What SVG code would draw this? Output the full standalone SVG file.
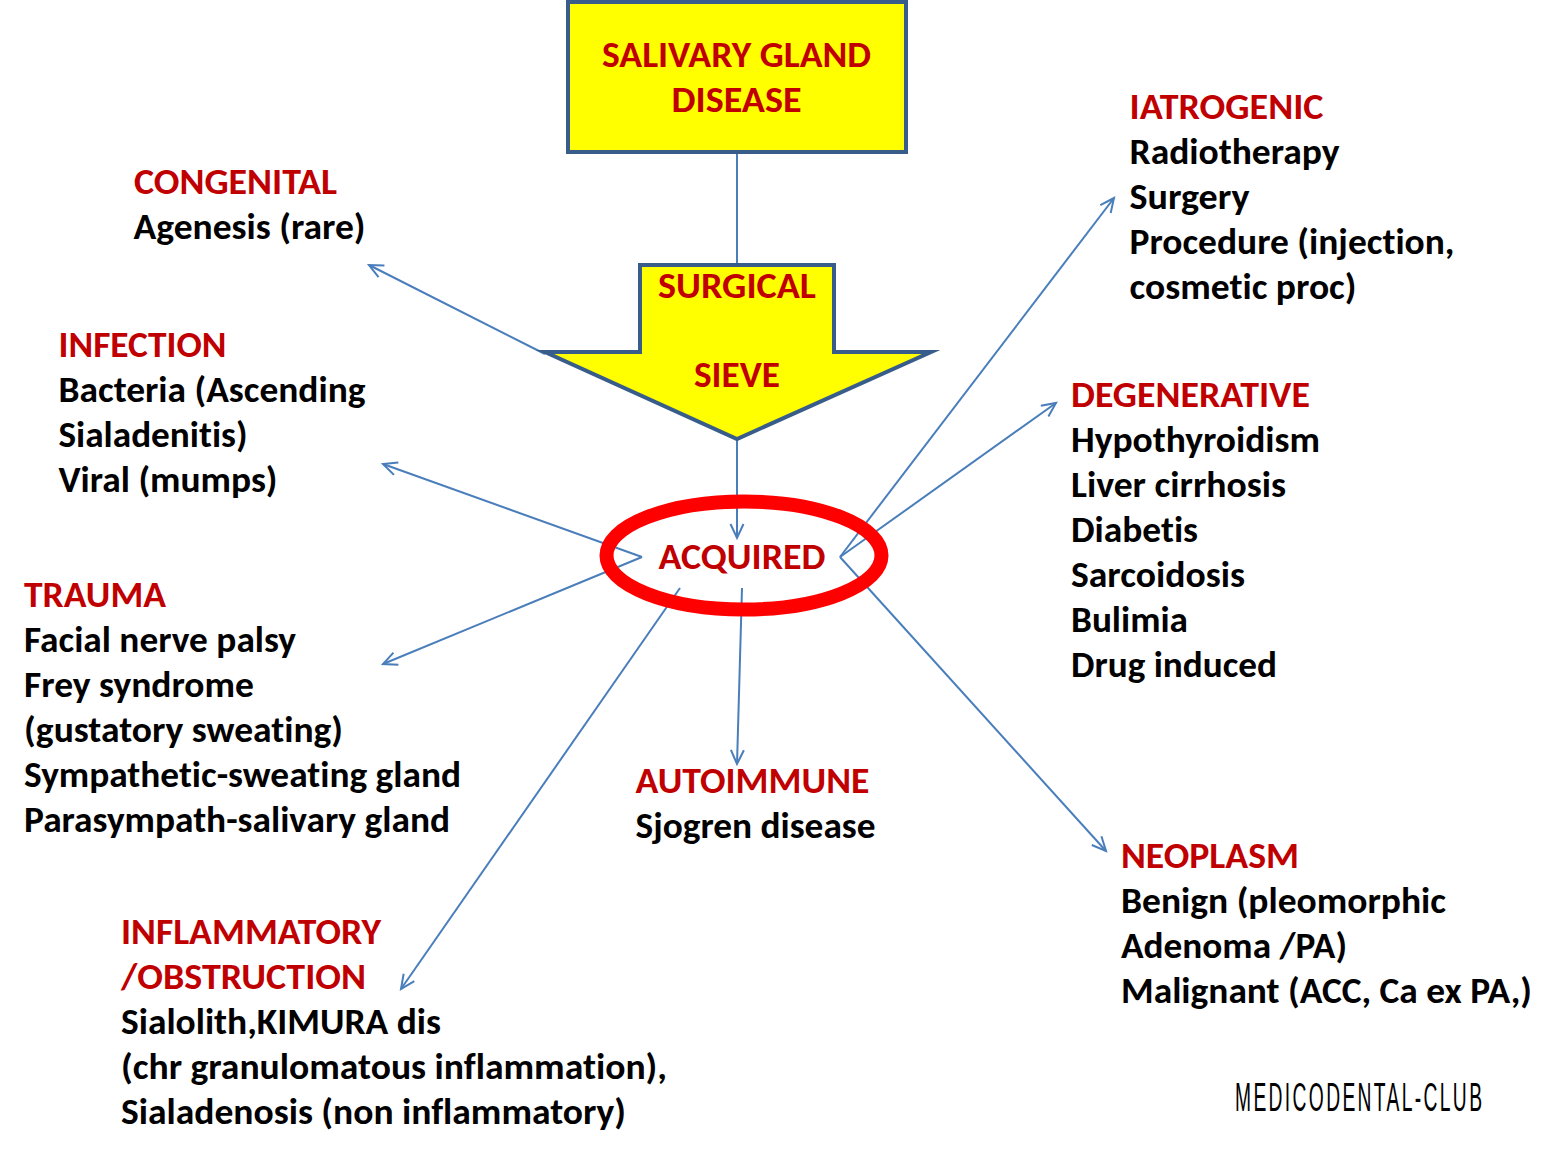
<svg xmlns="http://www.w3.org/2000/svg" width="1565" height="1158" viewBox="0 0 1565 1158">
<style>
text{font-family:"Carlito","Lato","Open Sans","Liberation Sans",sans-serif;font-weight:700;font-size:36px;fill:#000;font-variant-ligatures:none}
.h{fill:#C00000}
.m{fill:#C00000;text-anchor:middle}
.box{fill:#FFFF00;stroke:#385D8A;stroke-width:4;stroke-miterlimit:10}
.c{fill:none;stroke:#4A7EBB;stroke-width:2}
.a{marker-end:url(#arr)}
.wm{font-family:"Liberation Sans Narrow","Liberation Sans",sans-serif;font-weight:400;font-size:41px;letter-spacing:5px}
</style>
<defs>
<marker id="arr" markerUnits="userSpaceOnUse" markerWidth="24" markerHeight="24" refX="18" refY="12" orient="auto">
<path d="M4 5.500L18 12L4 18.500" fill="none" stroke="#4A7EBB" stroke-width="2"/>
</marker>
</defs>
<rect width="1565" height="1158" fill="#fff"/>
<g id="connectors">
<path class="c" d="M737 152V266"/>
<path class="c a" d="M737 440V538"/>
<path class="c a" d="M545 354L369 265"/>
<path class="c a" d="M642 557L383 464"/>
<path class="c a" d="M642 557L383 664"/>
<path class="c a" d="M680 588L401 989"/>
<path class="c a" d="M742 588L737 764"/>
<path class="c a" d="M840 557L1114 198"/>
<path class="c a" d="M840 557L1056 403"/>
<path class="c a" d="M840 557L1106 851"/>
</g>
<g id="node-title">
<rect class="box" x="568" y="2" width="338" height="150"/>
<text class="m" x="736.500" y="67" textLength="269" lengthAdjust="spacingAndGlyphs">SALIVARY GLAND</text>
<text class="m" x="736.500" y="112" textLength="130" lengthAdjust="spacingAndGlyphs">DISEASE</text>
</g>
<g id="node-sieve">
<path class="box" d="M640 265H834V352H931L737 439L545 352H640Z"/>
<text class="m" x="737" y="298" textLength="158" lengthAdjust="spacingAndGlyphs">SURGICAL</text>
<text class="m" x="737" y="387" textLength="86" lengthAdjust="spacingAndGlyphs">SIEVE</text>
</g>
<g id="node-acquired">
<ellipse cx="744" cy="555.500" rx="137.500" ry="54" fill="none" stroke="#FF0000" stroke-width="14"/>
<text class="m" x="742" y="569" textLength="167" lengthAdjust="spacingAndGlyphs">ACQUIRED</text>
</g>
<g id="node-congenital">
<text class="h" x="134" y="194" textLength="203" lengthAdjust="spacingAndGlyphs">CONGENITAL</text>
<text x="133.500" y="239" textLength="232" lengthAdjust="spacingAndGlyphs">Agenesis (rare)</text>
</g>
<g id="node-infection">
<text class="h" x="58.500" y="357" textLength="168" lengthAdjust="spacingAndGlyphs">INFECTION</text>
<text x="58.500" y="402" textLength="307" lengthAdjust="spacingAndGlyphs">Bacteria (Ascending</text>
<text x="58.500" y="447" textLength="189" lengthAdjust="spacingAndGlyphs">Sialadenitis)</text>
<text x="58.500" y="492" textLength="219" lengthAdjust="spacingAndGlyphs">Viral (mumps)</text>
</g>
<g id="node-trauma">
<text class="h" x="24" y="607" textLength="142" lengthAdjust="spacingAndGlyphs">TRAUMA</text>
<text x="24" y="652" textLength="272" lengthAdjust="spacingAndGlyphs">Facial nerve palsy</text>
<text x="24" y="697" textLength="230" lengthAdjust="spacingAndGlyphs">Frey syndrome</text>
<text x="24" y="742" textLength="319" lengthAdjust="spacingAndGlyphs">(gustatory sweating)</text>
<text x="24" y="787" textLength="437" lengthAdjust="spacingAndGlyphs">Sympathetic-sweating gland</text>
<text x="24" y="832" textLength="426" lengthAdjust="spacingAndGlyphs">Parasympath-salivary gland</text>
</g>
<g id="node-inflammatory">
<text class="h" x="121" y="944" textLength="260" lengthAdjust="spacingAndGlyphs">INFLAMMATORY</text>
<text class="h" x="121" y="989" textLength="245" lengthAdjust="spacingAndGlyphs">/OBSTRUCTION</text>
<text x="121" y="1034" textLength="320" lengthAdjust="spacingAndGlyphs">Sialolith,KIMURA dis</text>
<text x="121" y="1079" textLength="546" lengthAdjust="spacingAndGlyphs">(chr granulomatous inflammation),</text>
<text x="121" y="1124" textLength="505" lengthAdjust="spacingAndGlyphs">Sialadenosis (non inflammatory)</text>
</g>
<g id="node-autoimmune">
<text class="h" x="635.500" y="793" textLength="234" lengthAdjust="spacingAndGlyphs">AUTOIMMUNE</text>
<text x="635.500" y="838" textLength="240" lengthAdjust="spacingAndGlyphs">Sjogren disease</text>
</g>
<g id="node-neoplasm">
<text class="h" x="1121" y="868" textLength="178" lengthAdjust="spacingAndGlyphs">NEOPLASM</text>
<text x="1121" y="913" textLength="325" lengthAdjust="spacingAndGlyphs">Benign (pleomorphic</text>
<text x="1121" y="958" textLength="226" lengthAdjust="spacingAndGlyphs">Adenoma /PA)</text>
<text x="1121" y="1003" textLength="411" lengthAdjust="spacingAndGlyphs">Malignant (ACC, Ca ex PA,)</text>
</g>
<g id="node-iatrogenic">
<text class="h" x="1129.500" y="119" textLength="194" lengthAdjust="spacingAndGlyphs">IATROGENIC</text>
<text x="1129.500" y="164" textLength="210" lengthAdjust="spacingAndGlyphs">Radiotherapy</text>
<text x="1129.500" y="209" textLength="120" lengthAdjust="spacingAndGlyphs">Surgery</text>
<text x="1129.500" y="254" textLength="325" lengthAdjust="spacingAndGlyphs">Procedure (injection,</text>
<text x="1129.500" y="299" textLength="227" lengthAdjust="spacingAndGlyphs">cosmetic proc)</text>
</g>
<g id="node-degenerative">
<text class="h" x="1071" y="407" textLength="239" lengthAdjust="spacingAndGlyphs">DEGENERATIVE</text>
<text x="1071" y="452" textLength="249" lengthAdjust="spacingAndGlyphs">Hypothyroidism</text>
<text x="1071" y="497" textLength="215" lengthAdjust="spacingAndGlyphs">Liver cirrhosis</text>
<text x="1071" y="542" textLength="127" lengthAdjust="spacingAndGlyphs">Diabetis</text>
<text x="1071" y="587" textLength="174" lengthAdjust="spacingAndGlyphs">Sarcoidosis</text>
<text x="1071" y="632" textLength="117" lengthAdjust="spacingAndGlyphs">Bulimia</text>
<text x="1071" y="677" textLength="206" lengthAdjust="spacingAndGlyphs">Drug induced</text>
</g>
<text class="wm" transform="translate(1235 1111) scale(.47 1)">MEDICODENTAL-CLUB</text>
</svg>
